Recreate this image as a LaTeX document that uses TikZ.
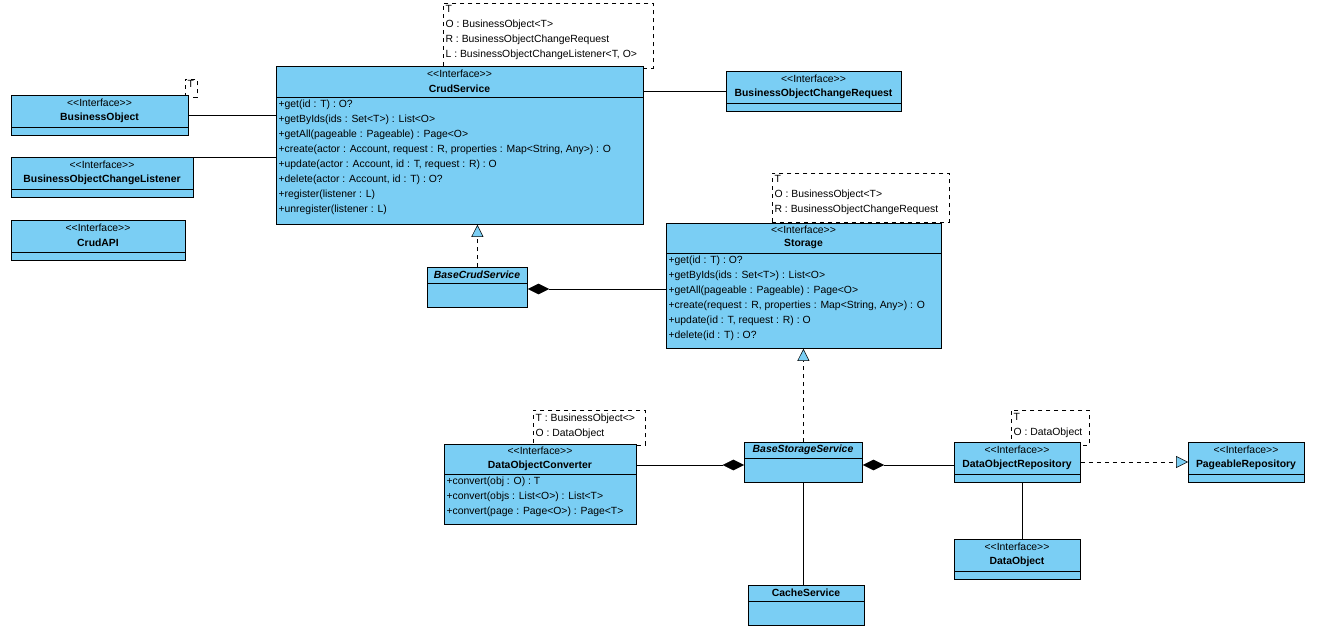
\documentclass[tikz,border=0pt]{standalone}
\usepackage{fontspec}
\setmainfont{Liberation Sans}
\usetikzlibrary{arrows.meta,positioning}
\definecolor{umlblue}{RGB}{122,206,244}
\newcommand{\stereo}{<\kern0pt<Interface>\kern0pt>}
\begin{document}
\begin{tikzpicture}[x=0.75pt,y=-0.75pt,
	cls/.style={draw=black,fill=umlblue,anchor=north west,inner sep=0pt,line width=0.6pt},
	tmpl/.style={draw=black,fill=white,dashed,anchor=north west,inner sep=0pt,line width=0.5pt},
	txt/.style={inner sep=0pt,font=\fontsize{7.8}{8}\selectfont},
	members/.style={anchor=north west,inner sep=1pt,align=left,font=\fontsize{7.8}{11.25}\selectfont},
	realize/.style={dashed,-{Triangle[open,fill=umlblue,length=9pt,width=9pt]}},
	compose/.style={{Diamond[length=16pt,width=8pt]}-},
	]
	\useasboundingbox (0,0) rectangle (1317,638);

	% template boxes (behind)
	\node[tmpl,minimum width=210*0.75pt,minimum height=65*0.75pt] (crudT) at (443,3) {};
	\node[members] at (444,4) {T\\O : BusinessObject<T>\\R : BusinessObjectChangeRequest\\L : BusinessObjectChangeListener<T, O>};
	\node[tmpl,minimum width=12*0.75pt,minimum height=18*0.75pt] (boT) at (185,79) {};
	\node[members] at (186,79) {T};
	\node[tmpl,minimum width=177*0.75pt,minimum height=49*0.75pt] (storT) at (772,173) {};
	\node[members] at (773,174) {T\\O : BusinessObject<T>\\R : BusinessObjectChangeRequest};
	\node[tmpl,minimum width=112*0.75pt,minimum height=35*0.75pt] (convT) at (533,410) {};
	\node[members] at (534,412) {T : BusinessObject<>\\O : DataObject};
	\node[tmpl,minimum width=78*0.75pt,minimum height=35*0.75pt] (repoT) at (1011,410) {};
	\node[members] at (1012,412) {T\\O : DataObject};

	% CrudService
	\node[cls,minimum width=367*0.75pt,minimum height=158*0.75pt] (crud) at (276,66) {};
	\draw (276,97) -- (643,97);
	\node[txt] at (459.5,74) {\stereo};
	\node[txt,font=\fontsize{7.8}{8}\bfseries] at (459.5,89) {CrudService};
	\node[members] at (277,98) {+get(id : T) : O?\\+getByIds(ids : Set<T>) : List<O>\\+getAll(pageable : Pageable) : Page<O>\\+create(actor : Account, request : R, properties : Map<String, Any>) : O\\+update(actor : Account, id : T, request : R) : O\\+delete(actor : Account, id : T) : O?\\+register(listener : L)\\+unregister(listener : L)};

	% left interfaces
	\node[cls,minimum width=177*0.75pt,minimum height=40*0.75pt] (bo) at (11,95) {};
	\draw (11,127) -- (188,127);
	\node[txt] at (99.5,103) {\stereo};
	\node[txt,font=\fontsize{7.8}{8}\bfseries] at (99.5,118) {BusinessObject};

	\node[cls,minimum width=182*0.75pt,minimum height=40*0.75pt] (listener) at (11,157) {};
	\draw (11,189) -- (193,189);
	\node[txt] at (102,165) {\stereo};
	\node[txt,font=\fontsize{7.8}{8}\bfseries] at (102,180) {BusinessObjectChangeListener};

	\node[cls,minimum width=174*0.75pt,minimum height=40*0.75pt] (api) at (11,220) {};
	\draw (11,252) -- (185,252);
	\node[txt] at (98,228) {\stereo};
	\node[txt,font=\fontsize{7.8}{8}\bfseries] at (98,243) {CrudAPI};

	% BusinessObjectChangeRequest
	\node[cls,minimum width=175*0.75pt,minimum height=40*0.75pt] (request) at (726,71) {};
	\draw (726,103) -- (901,103);
	\node[txt] at (813.5,79) {\stereo};
	\node[txt,font=\fontsize{7.8}{8}\bfseries] at (813.5,94) {BusinessObjectChangeRequest};

	% BaseCrudService
	\node[cls,minimum width=100*0.75pt,minimum height=40*0.75pt] (baseCrud) at (427,267) {};
	\draw (427,283) -- (527,283);
	\node[txt,font=\fontsize{7.8}{8}\bfseries\itshape] at (477,275) {BaseCrudService};

	% Storage
	\node[cls,minimum width=275*0.75pt,minimum height=125*0.75pt] (storage) at (666,223) {};
	\draw (666,253) -- (941,253);
	\node[txt] at (803.5,230) {\stereo};
	\node[txt,font=\fontsize{7.8}{8}\bfseries] at (803.5,244) {Storage};
	\node[members] at (667,254) {+get(id : T) : O?\\+getByIds(ids : Set<T>) : List<O>\\+getAll(pageable : Pageable) : Page<O>\\+create(request : R, properties : Map<String, Any>) : O\\+update(id : T, request : R) : O\\+delete(id : T) : O?};

	% DataObjectConverter
	\node[cls,minimum width=192*0.75pt,minimum height=80*0.75pt] (converter) at (444,444) {};
	\draw (444,474) -- (636,474);
	\node[txt] at (540,451) {\stereo};
	\node[txt,font=\fontsize{7.8}{8}\bfseries] at (540,466) {DataObjectConverter};
	\node[members] at (445,475) {+convert(obj : O) : T\\+convert(objs : List<O>) : List<T>\\+convert(page : Page<O>) : Page<T>};

	% BaseStorageService
	\node[cls,minimum width=118*0.75pt,minimum height=40*0.75pt] (baseStorage) at (744,442) {};
	\draw (744,458) -- (862,458);
	\node[txt,font=\fontsize{7.8}{8}\bfseries\itshape] at (803,450) {BaseStorageService};

	% DataObjectRepository
	\node[cls,minimum width=126*0.75pt,minimum height=40*0.75pt] (repo) at (954,442) {};
	\draw (954,474) -- (1080,474);
	\node[txt] at (1017,450) {\stereo};
	\node[txt,font=\fontsize{7.8}{8}\bfseries] at (1017,465) {DataObjectRepository};

	% PageableRepository
	\node[cls,minimum width=116*0.75pt,minimum height=40*0.75pt] (pageable) at (1188,442) {};
	\draw (1188,474) -- (1304,474);
	\node[txt] at (1246,450) {\stereo};
	\node[txt,font=\fontsize{7.8}{8}\bfseries] at (1246,465) {PageableRepository};

	% DataObject
	\node[cls,minimum width=126*0.75pt,minimum height=40*0.75pt] (dataObj) at (954,539) {};
	\draw (954,571) -- (1080,571);
	\node[txt] at (1017,547) {\stereo};
	\node[txt,font=\fontsize{7.8}{8}\bfseries] at (1017,562) {DataObject};

	% CacheService
	\node[cls,minimum width=116*0.75pt,minimum height=40*0.75pt] (cache) at (748,585) {};
	\draw (748,601) -- (864,601);
	\node[txt,font=\fontsize{7.8}{8}\bfseries] at (806,593) {CacheService};

	% connectors
	\draw (bo.east |- 0,115) -- (crud.west |- 0,115);
	\draw (listener.north east) -- (crud.west |- listener.north);
	\draw (crud.east |- 0,91) -- (request.west |- 0,91);
	\draw[realize] (baseCrud.north) -- (crud.south -| baseCrud.north);
	\draw[compose] (baseCrud.east |- 0,289) -- (storage.west |- 0,289);
	\draw[realize] (baseStorage.north) -- (storage.south -| baseStorage.north);
	\draw[compose] (baseStorage.west |- 0,465) -- (converter.east |- 0,465);
	\draw[compose] (baseStorage.east |- 0,465) -- (repo.west |- 0,465);
	\draw[realize] (repo.east |- 0,462) -- (pageable.west |- 0,462);
	\draw (repo.south -| 1022,0) -- (dataObj.north -| 1022,0);
	\draw (baseStorage.south) -- (cache.north -| baseStorage.south);
\end{tikzpicture}
\end{document}
